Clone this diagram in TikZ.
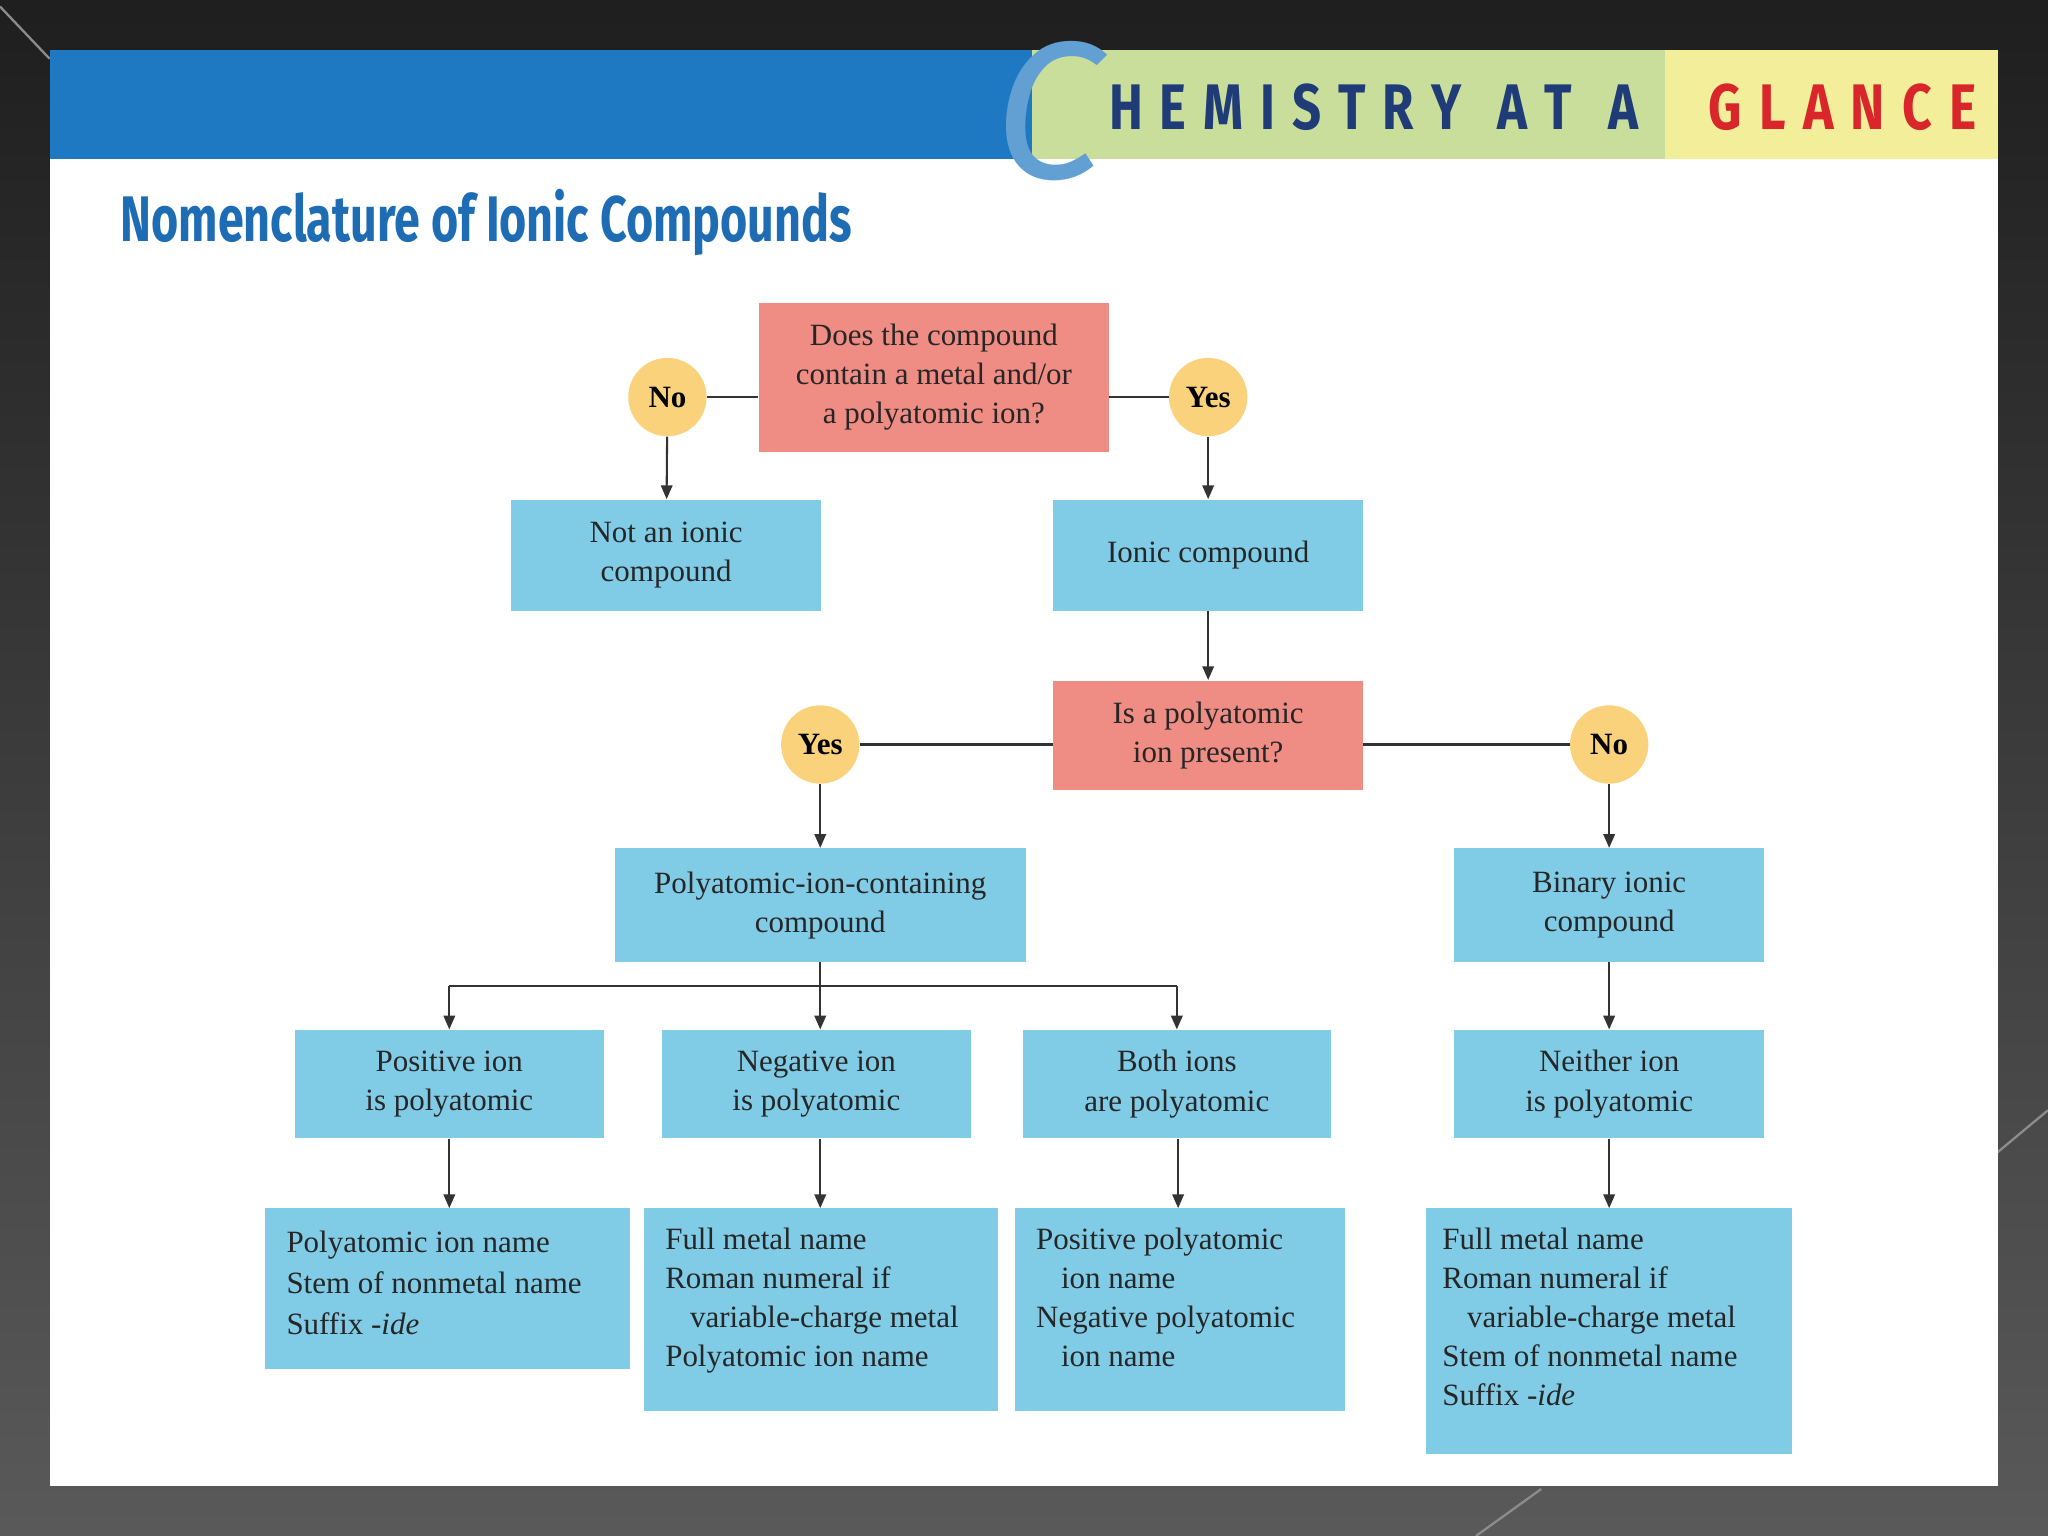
\documentclass[tikz,border=0pt]{standalone}
\usepackage{fontspec}
\usepackage{graphicx}
\setmainfont{Liberation Serif}
\newfontfamily\hdr{Fira Sans}
\usetikzlibrary{arrows.meta}
\definecolor{boxblue}{HTML}{80CBE5}
\definecolor{boxred}{HTML}{EF8C84}
\definecolor{circy}{HTML}{FBD27C}
\definecolor{hblue}{HTML}{1F78C2}
\definecolor{hgreen}{HTML}{C9DE9A}
\definecolor{hyellow}{HTML}{F3EE9A}
\definecolor{tblue}{HTML}{1E6DB4}
\definecolor{navy}{HTML}{1F3C78}
\definecolor{gred}{HTML}{D8262B}
\begin{document}
\begin{tikzpicture}[x=0.02cm,y=-0.02cm,
  txt/.style={font=\fontsize{13.5}{17}\selectfont,text=black!85},
  bb/.style={txt,fill=boxblue,align=center,inner sep=0pt},
  rb/.style={txt,fill=boxred,align=center,inner sep=0pt},
  yn/.style={circle,fill=circy,minimum size=1.2cm,inner sep=0pt,font=\bfseries\fontsize{13.5}{16}\selectfont},
  ln/.style={line width=0.9pt,black!80},
  ar/.style={ln,-{Triangle[length=6pt,width=5pt]}}]
% background
\shade[top color=black!88,bottom color=black!65] (0,0) rectangle (1568,1176);
\useasboundingbox (0,0) rectangle (1568,1176);
\draw[black!45,line width=1pt] (1568,850) -- (1520,890);
\draw[black!45,line width=1pt] (1130,1176) -- (1180,1140);
\draw[black!45,line width=1pt] (0,5) -- (38,45);
\fill[white] (38,38) rectangle (1530,1138);
\fill[hblue] (38,38) rectangle (800,122);
\fill[hgreen] (790,38) rectangle (1275,122);
\fill[hyellow] (1275,38) rectangle (1530,122);
\node[text=hblue!70,font=\hdr\itshape,anchor=west] (bigc) at (755,85) {\resizebox{!}{2.1cm}{C}};
\node[anchor=west,text=navy,font=\hdr\bfseries] (h1) at (843,82) {\resizebox{8.1cm}{0.7cm}{H\,\,E\,\,M\,\,I\,\,S\,\,T\,\,R\,\,Y\ \ \ A\,\,T\ \ \ A}};
\node[anchor=west,text=gred,font=\hdr\bfseries] (h2) at (1302,82) {\resizebox{4.1cm}{0.7cm}{G\,\,L\,\,A\,\,N\,\,C\,\,E}};
\node[anchor=west,text=tblue,font=\hdr\bfseries,inner sep=0pt] (title) at (92,170) {\resizebox{11.2cm}{0.8cm}{Nomenclature of Ionic Compounds}};
% nodes
\node[rb,minimum width=5.36cm,minimum height=2.28cm] (q1) at (715,289) {Does the compound\\contain a metal and/or\\a polyatomic ion?};
\node[yn] (no1) at (511,304) {No};
\node[yn] (yes1) at (925,304) {Yes};
\node[bb,minimum width=4.74cm,minimum height=1.7cm] (not) at (510,425) {Not an ionic\\compound};
\node[bb,minimum width=4.74cm,minimum height=1.7cm] (ionic) at (925,425) {Ionic compound};
\node[rb,minimum width=4.74cm,minimum height=1.68cm] (q2) at (925,563) {Is a polyatomic\\ion present?};
\node[yn] (yes2) at (628,570) {Yes};
\node[yn] (no2) at (1232,570) {No};
\node[bb,minimum width=6.3cm,minimum height=1.74cm] (poly) at (628,693) {Polyatomic-ion-containing\\compound};
\node[bb,minimum width=4.74cm,minimum height=1.74cm] (bin) at (1232,693) {Binary ionic\\compound};
\node[bb,minimum width=4.74cm,minimum height=1.66cm] (pos) at (344,830) {Positive ion\\is polyatomic};
\node[bb,minimum width=4.74cm,minimum height=1.66cm] (neg) at (625,830) {Negative ion\\is polyatomic};
\node[bb,minimum width=4.72cm,minimum height=1.66cm] (both) at (901,830) {Both ions\\are polyatomic};
\node[bb,minimum width=4.74cm,minimum height=1.66cm] (nei) at (1232,830) {Neither ion\\is polyatomic};
\fill[boxblue] (203,925) rectangle (482,1048);
\fill[boxblue] (493,925) rectangle (764,1080);
\fill[boxblue] (777,925) rectangle (1030,1080);
\fill[boxblue] (1092,925) rectangle (1372,1113);
\tikzset{lt/.style={txt,anchor=north west,align=left,inner sep=0pt}}
\node[lt,font=\fontsize{13.5}{18}\selectfont] (b1) at (219,942) {Polyatomic ion name\\Stem of nonmetal name\\Suffix \textit{-ide}};
\node[lt] (b2) at (509,940) {Full metal name\\Roman numeral if\\\hspace{0.8em}variable-charge metal\\Polyatomic ion name};
\node[lt] (b3) at (793,940) {Positive polyatomic\\\hspace{0.8em}ion name\\Negative polyatomic\\\hspace{0.8em}ion name};
\node[lt] (b4) at (1104,940) {Full metal name\\Roman numeral if\\\hspace{0.8em}variable-charge metal\\Stem of nonmetal name\\Suffix \textit{-ide}};
\coordinate (b1t) at (344,925);
\coordinate (b2t) at (628,925);
\coordinate (b3t) at (902,925);
\coordinate (b4t) at (1232,925);
% connectors
\draw[ln] (no1) -- (no1 -| q1.west);
\draw[ln] (yes1) -- (yes1 -| q1.east);
\draw[ar] (no1) -- (not);
\draw[ar] (yes1) -- (ionic);
\draw[ar] (ionic) -- (q2);
\draw[ln] (yes2) -- (yes2 -| q2.west);
\draw[ln] (no2) -- (no2 -| q2.east);
\draw[ar] (yes2) -- (poly);
\draw[ar] (no2) -- (bin);
\coordinate (jl) at (344,755);
\coordinate (jm) at (628,755);
\coordinate (jr) at (901,755);
\draw[ln] (poly) -- (jm);
\draw[ln] (jl) -- (jr);
\draw[ar] (jl) -- (pos);
\draw[ar] (jm) -- (jm |- neg.north);
\draw[ar] (jr) -- (both);
\draw[ar] (bin) -- (nei);
\draw[ar] (b1t |- pos.south) -- (b1t);
\draw[ar] (b2t |- neg.south) -- (b2t);
\draw[ar] (b3t |- both.south) -- (b3t);
\draw[ar] (nei) -- (b4t);
\end{tikzpicture}
\end{document}
